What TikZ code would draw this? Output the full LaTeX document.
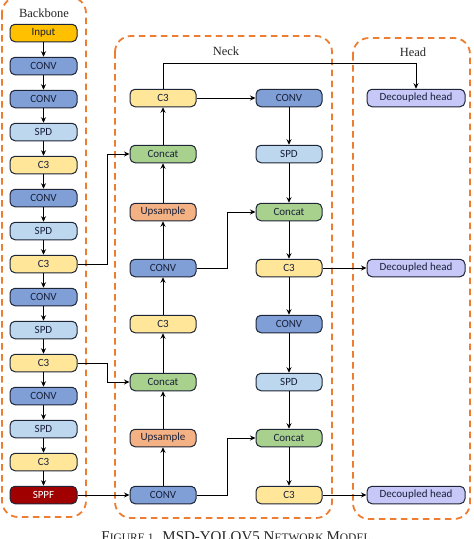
\documentclass[tikz,border=0pt]{standalone}
\usepackage{fontspec}
\setmainfont{Liberation Serif}
\newfontfamily\boxfont{Carlito}
\usetikzlibrary{arrows.meta,calc}
\definecolor{edgeC}{HTML}{1E2536}
\definecolor{txtC}{HTML}{18203A}
\definecolor{dashC}{HTML}{ED7D31}
\definecolor{inputC}{HTML}{FFC000}
\definecolor{convC}{HTML}{7F9FD6}
\definecolor{spdC}{HTML}{BDD7EE}
\definecolor{cthreeC}{HTML}{FFE699}
\definecolor{concatC}{HTML}{A9D18E}
\definecolor{upC}{HTML}{F4B183}
\definecolor{sppfC}{HTML}{A00000}
\definecolor{headC}{HTML}{C7C8F7}
\tikzset{
  blk/.style={draw=edgeC, line width=1pt, rounded corners=5pt, minimum height=17.5pt,
    inner sep=0pt, font=\boxfont\fontsize{11}{12}\selectfont, text=txtC},
  bb/.style={blk, minimum width=67pt},
  nk/.style={blk, minimum width=66pt},
  hd/.style={blk, minimum width=98pt, fill=headC},
  inp/.style={fill=inputC}, cnv/.style={fill=convC}, spd/.style={fill=spdC},
  cth/.style={fill=cthreeC}, cat/.style={fill=concatC}, ups/.style={fill=upC},
  spf/.style={fill=sppfC, text=white},
  grp/.style={draw=dashC, line width=1.8pt, dash pattern=on 6.5pt off 4.5pt, rounded corners=16pt},
  grplabel/.style={font=\fontsize{12.5}{14}\selectfont, text=black!85},
  arr/.style={draw=black, line width=1pt, -{Stealth[length=5.5pt,width=5pt]}},
}
\begin{document}
\begin{tikzpicture}[x=1pt,y=-1pt]
\useasboundingbox (0,0) rectangle (474,539);
\clip (0,0) rectangle (474,539);
% groups
\draw[grp] (2,-3) rectangle (86,517);
\draw[grp] (115,36) rectangle (332,518);
\draw[grp] (353,38) rectangle (470,519);
\node[grplabel] (lb) at (44,13) {Backbone};
\node[grplabel] (ln) at (226,51) {Neck};
\node[grplabel] (lh) at (413,52) {Head};
% backbone
\node[bb,inp] (b1) at (43.5,33) {Input};
\node[bb,cnv] (b2) at (43.5,66) {CONV};
\node[bb,cnv] (b3) at (43.5,99) {CONV};
\node[bb,spd] (b4) at (43.5,132) {SPD};
\node[bb,cth] (b5) at (43.5,165) {C3};
\node[bb,cnv] (b6) at (43.5,198) {CONV};
\node[bb,spd] (b7) at (43.5,231) {SPD};
\node[bb,cth] (b8) at (43.5,264) {C3};
\node[bb,cnv] (b9) at (43.5,297) {CONV};
\node[bb,spd] (b10) at (43.5,330) {SPD};
\node[bb,cth] (b11) at (43.5,363) {C3};
\node[bb,cnv] (b12) at (43.5,396) {CONV};
\node[bb,spd] (b13) at (43.5,429) {SPD};
\node[bb,cth] (b14) at (43.5,462) {C3};
\node[bb,spf] (b15) at (43.5,495) {SPPF};
\foreach \i [evaluate=\i as \j using int(\i+1)] in {1,...,14}
  \draw[arr] (b\i.south) -- (b\j.north);
% neck left column (bottom-up flow)
\node[nk,cth] (n1) at (163,98) {C3};
\node[nk,cat] (n2) at (163,154) {Concat};
\node[nk,ups] (n3) at (163,212) {Upsample};
\node[nk,cnv] (n4) at (163,268) {CONV};
\node[nk,cth] (n5) at (163,324) {C3};
\node[nk,cat] (n6) at (163,382) {Concat};
\node[nk,ups] (n7) at (163,438) {Upsample};
\node[nk,cnv] (n8) at (163,495) {CONV};
\foreach \i [evaluate=\i as \j using int(\i+1)] in {1,...,7}
  \draw[arr] (n\j.north) -- (n\i.south);
% neck right column
\node[nk,cnv] (m1) at (289,98) {CONV};
\node[nk,spd] (m2) at (289,154) {SPD};
\node[nk,cat] (m3) at (289,212) {Concat};
\node[nk,cth] (m4) at (289,268) {C3};
\node[nk,cnv] (m5) at (289,324) {CONV};
\node[nk,spd] (m6) at (289,382) {SPD};
\node[nk,cat] (m7) at (289,438) {Concat};
\node[nk,cth] (m8) at (289,495) {C3};
\foreach \i [evaluate=\i as \j using int(\i+1)] in {1,...,7}
  \draw[arr] (m\i.south) -- (m\j.north);
% head
\node[hd] (h1) at (416,98) {Decoupled head};
\node[hd] (h2) at (416,268) {Decoupled head};
\node[hd] (h3) at (416,495) {Decoupled head};
% cross connections
\draw[arr] (b8.east) -- ++(30,0) |- (n2.west);
\draw[arr] (b11.east) -- ++(30,0) |- (n6.west);
\draw[arr] (b15.east) -- (n8.west);
\draw[arr] (n1.east) -- (m1.west);
\draw[arr] (n1.north) -- (n1.north |- 0,63) -| (h1.north);
\draw[arr] (n4.east) -- ++(31,0) |- (m3.west);
\draw[arr] (n8.east) -- ++(31,0) |- (m7.west);
\draw[arr] (m4.east) -- (h2.west);
\draw[arr] (m8.east) -- (h3.west);
% caption
\node[anchor=base, text=black!85] (cap) at (236,541)
  {\fontsize{15}{15}\selectfont F\fontsize{11.5}{12}\selectfont IGURE 1.\hspace{6pt}\fontsize{15}{15}\selectfont MSD-YOLOV5 N\fontsize{11.5}{12}\selectfont ETWORK \fontsize{15}{15}\selectfont M\fontsize{11.5}{12}\selectfont ODEL};
\end{tikzpicture}
\end{document}
